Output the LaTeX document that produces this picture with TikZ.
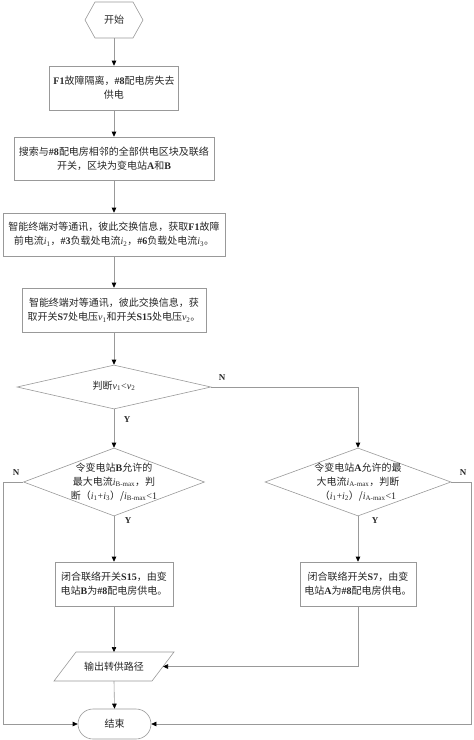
\documentclass[tikz,border=0pt]{standalone}
\usepackage{fontspec}
\setmainfont{Liberation Serif}
\newfontfamily\cjk{Noto Sans CJK SC}
\usetikzlibrary{arrows.meta,shapes.geometric,shapes.misc}
\newcommand{\latb}[1]{{\rmfamily\bfseries #1}}
\newcommand{\mvar}[2]{{\rmfamily\itshape #1}\textsubscript{\rmfamily #2}}
\begin{document}
\begin{tikzpicture}[x=1pt,y=-1pt,
  every node/.style={font=\cjk\fontsize{10}{14}\selectfont, text=black!85},
  box/.style={draw=gray!80, line width=0.6pt, rectangle, inner sep=0pt, align=center, minimum height=44},
  dia/.style={draw=gray!80, line width=0.6pt, diamond, inner sep=0pt, aspect=1},
  conn/.style={draw=gray!80, line width=0.6pt, -{Triangle[length=5pt,width=4.5pt,color=black]}},
  lbl/.style={font=\rmfamily\bfseries\fontsize{9}{10}\selectfont}]
\useasboundingbox (0,0) rectangle (474,740);

% start hexagon
\node (start) at (114,20) {开始};
\draw[gray!80, line width=0.6pt] (85,20) -- (95,2) -- (133,2) -- (143,20) -- (133,38) -- (95,38) -- cycle;
\coordinate (startS) at (114,38);

\node[box, minimum width=129] (b1) at (114,88) {\latb{F1}故障隔离，\latb{\#8}配电房失去\\供电};
\node[box, minimum width=200, minimum height=43] (b2) at (114,158.5) {搜索与\latb{\#8}配电房相邻的全部供电区块及联络\\开关，区块为变电站\latb{A}和\latb{B}};
\node[box, minimum width=222, minimum height=43] (b3) at (114,234.5) {智能终端对等通讯，彼此交换信息，获取\latb{F1}故障\\前电流\mvar{i}{1}，\latb{\#3}负载处电流\mvar{i}{2}，\latb{\#6}负载处电流\mvar{i}{3}。};
\node[box, minimum width=184] (b4) at (114,310) {智能终端对等通讯，彼此交换信息，获\\取开关\latb{S7}处电压\mvar{v}{1}和开关\latb{S15}处电压\mvar{v}{2}。};

\node[dia, minimum width=194, minimum height=44] (d1) at (114,387) {};
\node (t1) at (114,386) {判断\mvar{v}{1}{\rmfamily<}\mvar{v}{2}};

\node[dia, minimum width=181, minimum height=68] (d2) at (114,482) {};
\node[align=center] (t2) at (114,482) {令变电站\latb{B}允许的\\最大电流\mvar{i}{B-max}，判\\断（\mvar{i}{1}{\rmfamily+}\mvar{i}{3}）/\mvar{i}{B-max}{\rmfamily<1}};

\node[dia, minimum width=186, minimum height=68] (d3) at (358,482) {};
\node[align=center] (t3) at (358,482) {令变电站\latb{A}允许的最\\大电流\mvar{i}{A-max}，判断\\（\mvar{i}{1}{\rmfamily+}\mvar{i}{2}）/\mvar{i}{A-max}{\rmfamily<1}};

\node[box, minimum width=118] (b5) at (114,584) {闭合联络开关\latb{S15}，由变\\电站\latb{B}为\latb{\#8}配电房供电。};
\node[box, minimum width=116] (b6) at (358,584) {闭合联络开关\latb{S7}，由变\\电站\latb{A}为\latb{\#8}配电房供电。};

% parallelogram
\node (out) at (114,666.5) {输出转供路径};
\draw[gray!80, line width=0.6pt] (54,681) -- (76,652) -- (174,652) -- (152,681) -- cycle;
\coordinate (outN) at (125,652);
\coordinate (outN) at (114,652);
\coordinate (outS) at (114,681);
\coordinate (outE) at (163,666.5);

\node[draw=gray!80, line width=0.6pt, rounded rectangle, minimum width=73, minimum height=30, inner sep=0pt] (end) at (114.5,724) {结束};

% connectors
\draw[conn] (startS) -- (b1.north);
\draw[conn] (b1.south) -- (b2.north);
\draw[conn] (b2.south) -- (b3.north);
\draw[conn] (b3.south) -- (b4.north);
\draw[conn] (b4.south) -- (d1.north);
\draw[conn] (d1.south) -- (d2.north);
\draw[conn] (d1.east) -| (d3.north);
\draw[conn] (d2.south) -- (b5.north);
\draw[conn] (d3.south) -- (b6.north);
\draw[conn] (b5.south) -- (outN);
\draw[conn] (b6.south) |- (outE);
\draw[conn] (outS) -- (end.north);
\draw[conn] (d2.west) -- ++(-20,0) |- (end.west);
\draw[conn] (d3.east) -- ++(20,0) |- (end.east);

% labels
\node[lbl] (lN1) at (222,378) {N};
\node[lbl] (lY1) at (127,420) {Y};
\node[lbl] (lN2) at (16,473) {N};
\node[lbl] (lN3) at (463,473) {N};
\node[lbl] (lY2) at (128,521) {Y};
\node[lbl] (lY3) at (375,521) {Y};
\end{tikzpicture}
\end{document}
